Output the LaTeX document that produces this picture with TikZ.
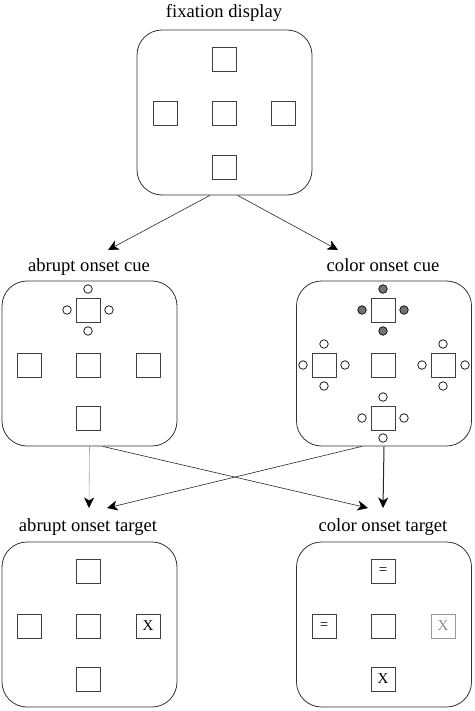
\documentclass[tikz,border=0pt]{standalone}
\usepackage{fontspec}
\setmainfont{Liberation Serif}
\usetikzlibrary{arrows.meta}

\begin{document}
\begin{tikzpicture}[x=1pt,y=-1pt,
  panel/.style={draw=black!80,line width=0.8pt,rounded corners=25pt,
    minimum width=175pt,minimum height=165pt,inner sep=0pt},
  lab/.style={anchor=base,inner sep=0pt,font=\fontsize{18.6}{22}\selectfont},
  sq/.style={draw=black!75,line width=0.8pt,minimum size=24pt,inner sep=0pt,
    font=\fontsize{15}{17}\selectfont},
  ring/.style={circle,draw=black,line width=0.7pt,fill=white,minimum size=8.5pt,inner sep=0pt},
  gring/.style={ring,fill=black!55},
  arr/.style={-{Stealth[length=10.5pt,width=10pt,inset=3pt,color=black]},line width=0.6pt,draw=black!85}]
  \useasboundingbox (0,0) rectangle (474,711);

  % fixation display
  \node[lab] (fixlab) at (224,18) {fixation display};
  \node[panel] (fix) at (224.5,112.5) {};
  \node[sq] (f1) at (224,59)  {};
  \node[sq] (f2) at (165,113) {};
  \node[sq] (f3) at (224,113) {};
  \node[sq] (f4) at (283,113) {};
  \node[sq] (f5) at (224,167) {};

  % abrupt onset cue
  \node[lab] (acuelab) at (89,271) {abrupt onset cue};
  \node[panel] (acue) at (89.5,363.5) {};
  \node[sq] (a1) at (88,310)  {};
  \node[sq] (a2) at (29,365)  {};
  \node[sq] (a3) at (88,365)  {};
  \node[sq] (a4) at (148,365) {};
  \node[sq] (a5) at (88,418)  {};
  \node[ring] (a1n) at (88,289)  {};
  \node[ring] (a1s) at (88,331)  {};
  \node[ring] (a1w) at (67,310)  {};
  \node[ring] (a1e) at (109,310) {};

  % color onset cue
  \node[lab] (ccuelab) at (383,271) {color onset cue};
  \node[panel] (ccue) at (384,363.5) {};
  \node[sq] (b1) at (383,310) {};
  \node[sq] (b2) at (324,365) {};
  \node[sq] (b3) at (383,365) {};
  \node[sq] (b4) at (443,365) {};
  \node[sq] (b5) at (383,418) {};
  \node[gring] (b1n) at (383,289) {};
  \node[gring] (b1s) at (383,331) {};
  \node[gring] (b1w) at (362,310) {};
  \node[gring] (b1e) at (404,310) {};
  \node[ring] (b2n) at (324,344) {};
  \node[ring] (b2s) at (324,386) {};
  \node[ring] (b2w) at (303,365) {};
  \node[ring] (b2e) at (345,365) {};
  \node[ring] (b4n) at (443,344) {};
  \node[ring] (b4s) at (443,386) {};
  \node[ring] (b4w) at (422,365) {};
  \node[ring] (b4e) at (465,365) {};
  \node[ring] (b5n) at (383,397) {};
  \node[ring] (b5s) at (383,438) {};
  \node[ring] (b5w) at (362,418) {};
  \node[ring] (b5e) at (404,418) {};

  % abrupt onset target
  \node[lab] (atgtlab) at (88,531) {abrupt onset target};
  \node[panel] (atgt) at (89.5,624.5) {};
  \node[sq] (c1) at (88,571)  {};
  \node[sq] (c2) at (29,626)  {};
  \node[sq] (c3) at (88,626)  {};
  \node[sq] (c4) at (148,626) {X};
  \node[sq] (c5) at (88,679)  {};

  % color onset target
  \node[lab] (ctgtlab) at (383,531) {color onset target};
  \node[panel] (ctgt) at (384,624.5) {};
  \node[sq] (d1) at (383,571) {=};
  \node[sq] (d2) at (324,626) {=};
  \node[sq] (d3) at (383,626) {};
  \node[sq,draw=black!40,text=black!45] (d4) at (443,626) {X};
  \node[sq] (d5) at (383,679) {X};

  % arrows
  \coordinate (acuein) at (108,250);
  \coordinate (ccuein) at (338,250);
  \coordinate (atgtin1) at (89,508);
  \coordinate (atgtin2) at (107,508);
  \coordinate (ctgtin1) at (368,508);
  \coordinate (ctgtin2) at (383,508);

  \draw[arr] (fix.-100) -- (acuein);
  \draw[arr] (fix.-81) -- (ccuein);
  \draw[arr,draw=black!35] (acue.south) -- (atgtin1);
  \draw[arr] (acue.-81) -- (ctgtin1);
  \draw[arr] (ccue.-105) -- (atgtin2);
  \draw[arr,line width=1pt] (ccue.south) -- (ctgtin2);
\end{tikzpicture}
\end{document}
